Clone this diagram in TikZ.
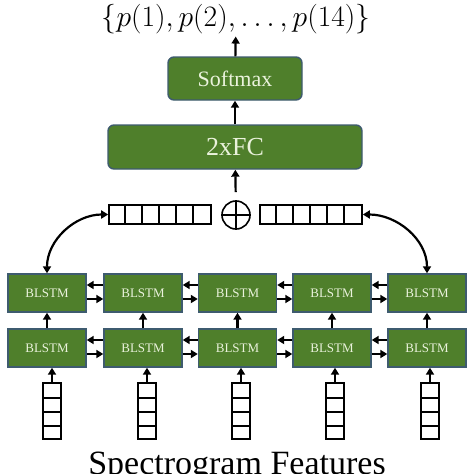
\documentclass[tikz,border=0pt]{standalone}
\usepackage{fontspec}
\setmainfont{Liberation Serif}
\usepackage{tikz}
\usetikzlibrary{arrows.meta}
\definecolor{cellgreen}{HTML}{4F7F2B}
\definecolor{edgeblue}{HTML}{3E5B6F}
\definecolor{paletext}{HTML}{EAF2DC}

\begin{document}
\begin{tikzpicture}[
  x=1pt, y=-1pt,
  layer/.style={draw=edgeblue, line width=1.4pt, fill=cellgreen, text=paletext, rounded corners=6pt},
  lstm/.style={draw=edgeblue, line width=1.4pt, fill=cellgreen, text=paletext, minimum width=78pt, minimum height=38pt, font=\fontsize{13}{15}\selectfont},
  hvec/.style={draw, line width=1.6pt, inner sep=0pt, minimum width=102pt, minimum height=19pt},
  vvec/.style={draw, line width=1.6pt, inner sep=0pt, minimum width=18pt, minimum height=56pt},
  cell/.style={line width=1.6pt},
  arrow/.style={-{Triangle[length=7pt,width=8pt]}, line width=2.2pt},
  dblarrow/.style={{Triangle[length=7pt,width=8pt]}-{Triangle[length=7pt,width=8pt]}, line width=2.2pt}
]
\useasboundingbox (0,0) rectangle (474,474);
\clip (0,0) rectangle (474,474);

% Output
\node[scale=1.19, inner sep=0pt] (out) at (236,19.5) {\fontsize{27}{30}\selectfont $\{p(1), p(2), \ldots, p(14)\}$};

% Classifier layers
\node[layer, minimum width=134pt, minimum height=43pt, font=\fontsize{22}{26}\selectfont] (soft) at (235,78.5) {Softmax};
\node[layer, minimum width=254pt, minimum height=44pt, font=\fontsize{26}{30}\selectfont] (fc) at (235,147) {2xFC};

% Concatenation
\node[hvec] (lvec) at (160,214.5) {};
\node[draw, circle, line width=1.6pt, minimum size=28pt, inner sep=0pt] (plus) at (236,215) {};
\draw[line width=1.6pt] (plus.north) -- (plus.south);
\draw[line width=1.6pt] (plus.west) -- (plus.east);
\node[hvec] (rvec) at (311,214.5) {};
\foreach \k in {1,...,5} {
  \draw[cell] ([xshift=\k*17pt]lvec.south west) -- ([xshift=\k*17pt]lvec.north west);
  \draw[cell] ([xshift=\k*17pt]rvec.south west) -- ([xshift=\k*17pt]rvec.north west);
}

% Upper BLSTM row
\node[lstm] (t1) at (47,293) {BLSTM};
\node[lstm] (t2) at (143,293) {BLSTM};
\node[lstm] (t3) at (237.5,293) {BLSTM};
\node[lstm] (t4) at (332,293) {BLSTM};
\node[lstm] (t5) at (427,293) {BLSTM};

% Lower BLSTM row
\node[lstm] (b1) at (47,348) {BLSTM};
\node[lstm] (b2) at (143,348) {BLSTM};
\node[lstm] (b3) at (237.5,348) {BLSTM};
\node[lstm] (b4) at (332,348) {BLSTM};
\node[lstm] (b5) at (427,348) {BLSTM};

% Input frames
\node[vvec] (f1) at (52,411) {};
\node[vvec] (f2) at (147,411) {};
\node[vvec] (f3) at (241,411) {};
\node[vvec] (f4) at (335,411) {};
\node[vvec] (f5) at (430,411) {};
\foreach \i in {1,...,5} {
  \foreach \k in {1,2,3} {
    \draw[cell] ([yshift=\k*14pt]f\i.south west) -- ([yshift=\k*14pt]f\i.south east);
  }
}

\node[anchor=base, font=\fontsize{34}{38}\selectfont] (spec) at (237,474) {Spectrogram Features};

% Recurrent links
\foreach \a/\b in {1/2,2/3,3/4,4/5} {
  \draw[arrow] ([yshift=8pt]t\b.west) -- ([yshift=8pt]t\a.east);
  \draw[arrow] ([yshift=-6pt]t\a.east) -- ([yshift=-6pt]t\b.west);
  \draw[arrow] ([yshift=8pt]b\b.west) -- ([yshift=8pt]b\a.east);
  \draw[arrow] ([yshift=-6pt]b\a.east) -- ([yshift=-6pt]b\b.west);
}

% Stacking and inputs
\foreach \i in {1,...,5} {
  \draw[arrow] (b\i) -- (t\i);
  \draw[arrow] (f\i.north) -- (f\i.north |- b\i.south);
}

% Last states
\draw[dblarrow] (lvec.west) to[out=180, in=90] (t1.north);
\draw[dblarrow] (rvec.east) to[out=0, in=90] (t5.north);

% Top flow
\draw[arrow, shorten <=8pt] (plus) -- (fc);
\draw[arrow] (fc) -- (soft);
\draw[arrow, shorten >=2pt] (soft) -- (out);

\end{tikzpicture}
\end{document}
